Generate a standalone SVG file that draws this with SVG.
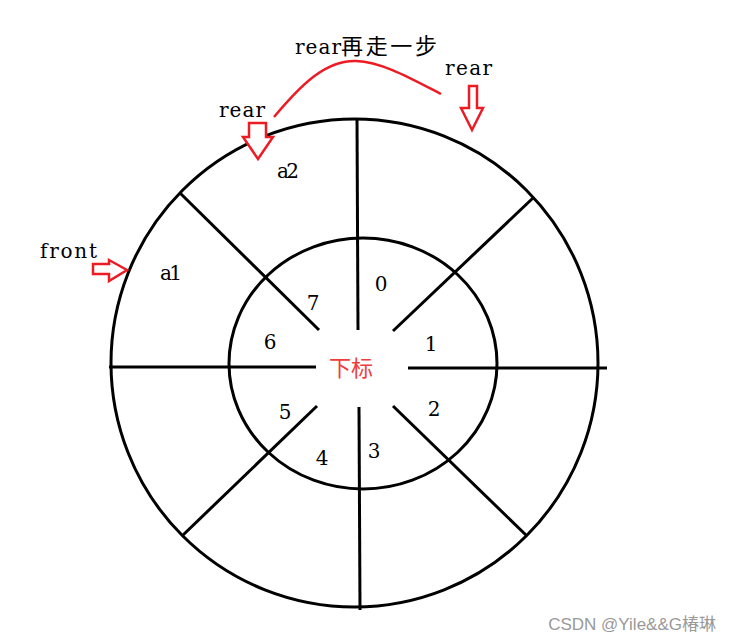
<svg xmlns="http://www.w3.org/2000/svg" width="732" height="641" viewBox="0 0 732 641">
<style>
.k{fill:none;stroke:#000;stroke-width:3}
.r{fill:#fff;stroke:#ed1c24;stroke-width:2.5;stroke-linejoin:miter}
.t{font-family:"DejaVu Serif","Liberation Serif","Noto Sans CJK SC",serif;font-size:20px;fill:#000}
.c{font-family:"Noto Sans CJK SC",sans-serif;font-size:22px;fill:#000}
.d{font-family:"DejaVu Serif","Liberation Serif",serif;font-size:20px;fill:#000;text-anchor:middle}
</style>
<rect width="732" height="641" fill="#fff"/>
<g id="rings">
<ellipse class="k" cx="354.5" cy="363" rx="243.5" ry="244"/>
<ellipse class="k" cx="363" cy="363.5" rx="134" ry="125.5"/>
</g>
<g id="spokes">
<line class="k" x1="357" y1="118" x2="358" y2="330"/>
<line class="k" x1="359" y1="407" x2="360" y2="610"/>
<line class="k" x1="109" y1="367" x2="316" y2="367"/>
<line class="k" x1="408" y1="368" x2="607" y2="368"/>
<line class="k" x1="180" y1="193" x2="319" y2="330"/>
<line class="k" x1="533" y1="198" x2="393" y2="331"/>
<line class="k" x1="317" y1="406" x2="182" y2="536"/>
<line class="k" x1="393" y1="406" x2="527" y2="536"/>
</g>
<g id="indices">
<text class="d" x="381" y="291">0</text>
<text class="d" x="431" y="351">1</text>
<text class="d" x="434" y="416">2</text>
<text class="d" x="374" y="458">3</text>
<text class="d" x="322" y="465">4</text>
<text class="d" x="285" y="419">5</text>
<text class="d" x="270" y="349">6</text>
<text class="d" x="313" y="310">7</text>
<text x="351" y="376" text-anchor="middle" font-family="'Noto Sans CJK SC',sans-serif" font-size="22" fill="#f03c3c">下标</text>
</g>
<g id="elements">
<text class="t" x="277" y="178" textLength="22">a2</text>
<text class="t" x="160" y="280" textLength="22">a1</text>
</g>
<g id="front">
<text class="t" x="40" y="258" textLength="57">front</text>
<polygon class="r" points="93,264 109,264 109,260 127,270 109,281 109,274 93,274"/>
</g>
<g id="rear-old">
<text class="t" x="219" y="117" textLength="46">rear</text>
<polygon class="r" points="249,123 266,123 266,137 273,137 258,159 243,137 249,137"/>
</g>
<g id="rear-new">
<text class="t" x="445" y="75" textLength="47">rear</text>
<polygon class="r" points="469,86 477,86 477,108 483,108 472,130 461,108 469,108"/>
</g>
<g id="connectors">
<path d="M274,117 C300,86 325,60 356,61 C382,62 410,78 441,94" fill="none" stroke="#ed1c24" stroke-width="2.5"/>
<text x="295" y="54"><tspan class="t" textLength="46">rear</tspan><tspan class="c" x="341" y="54" textLength="96">再走一步</tspan></text>
</g>
<text x="716" y="630" text-anchor="end" font-family="'Liberation Sans','Noto Sans CJK SC',sans-serif" font-size="17" fill="#999">CSDN @Yile&amp;&amp;G椿琳</text>
</svg>
